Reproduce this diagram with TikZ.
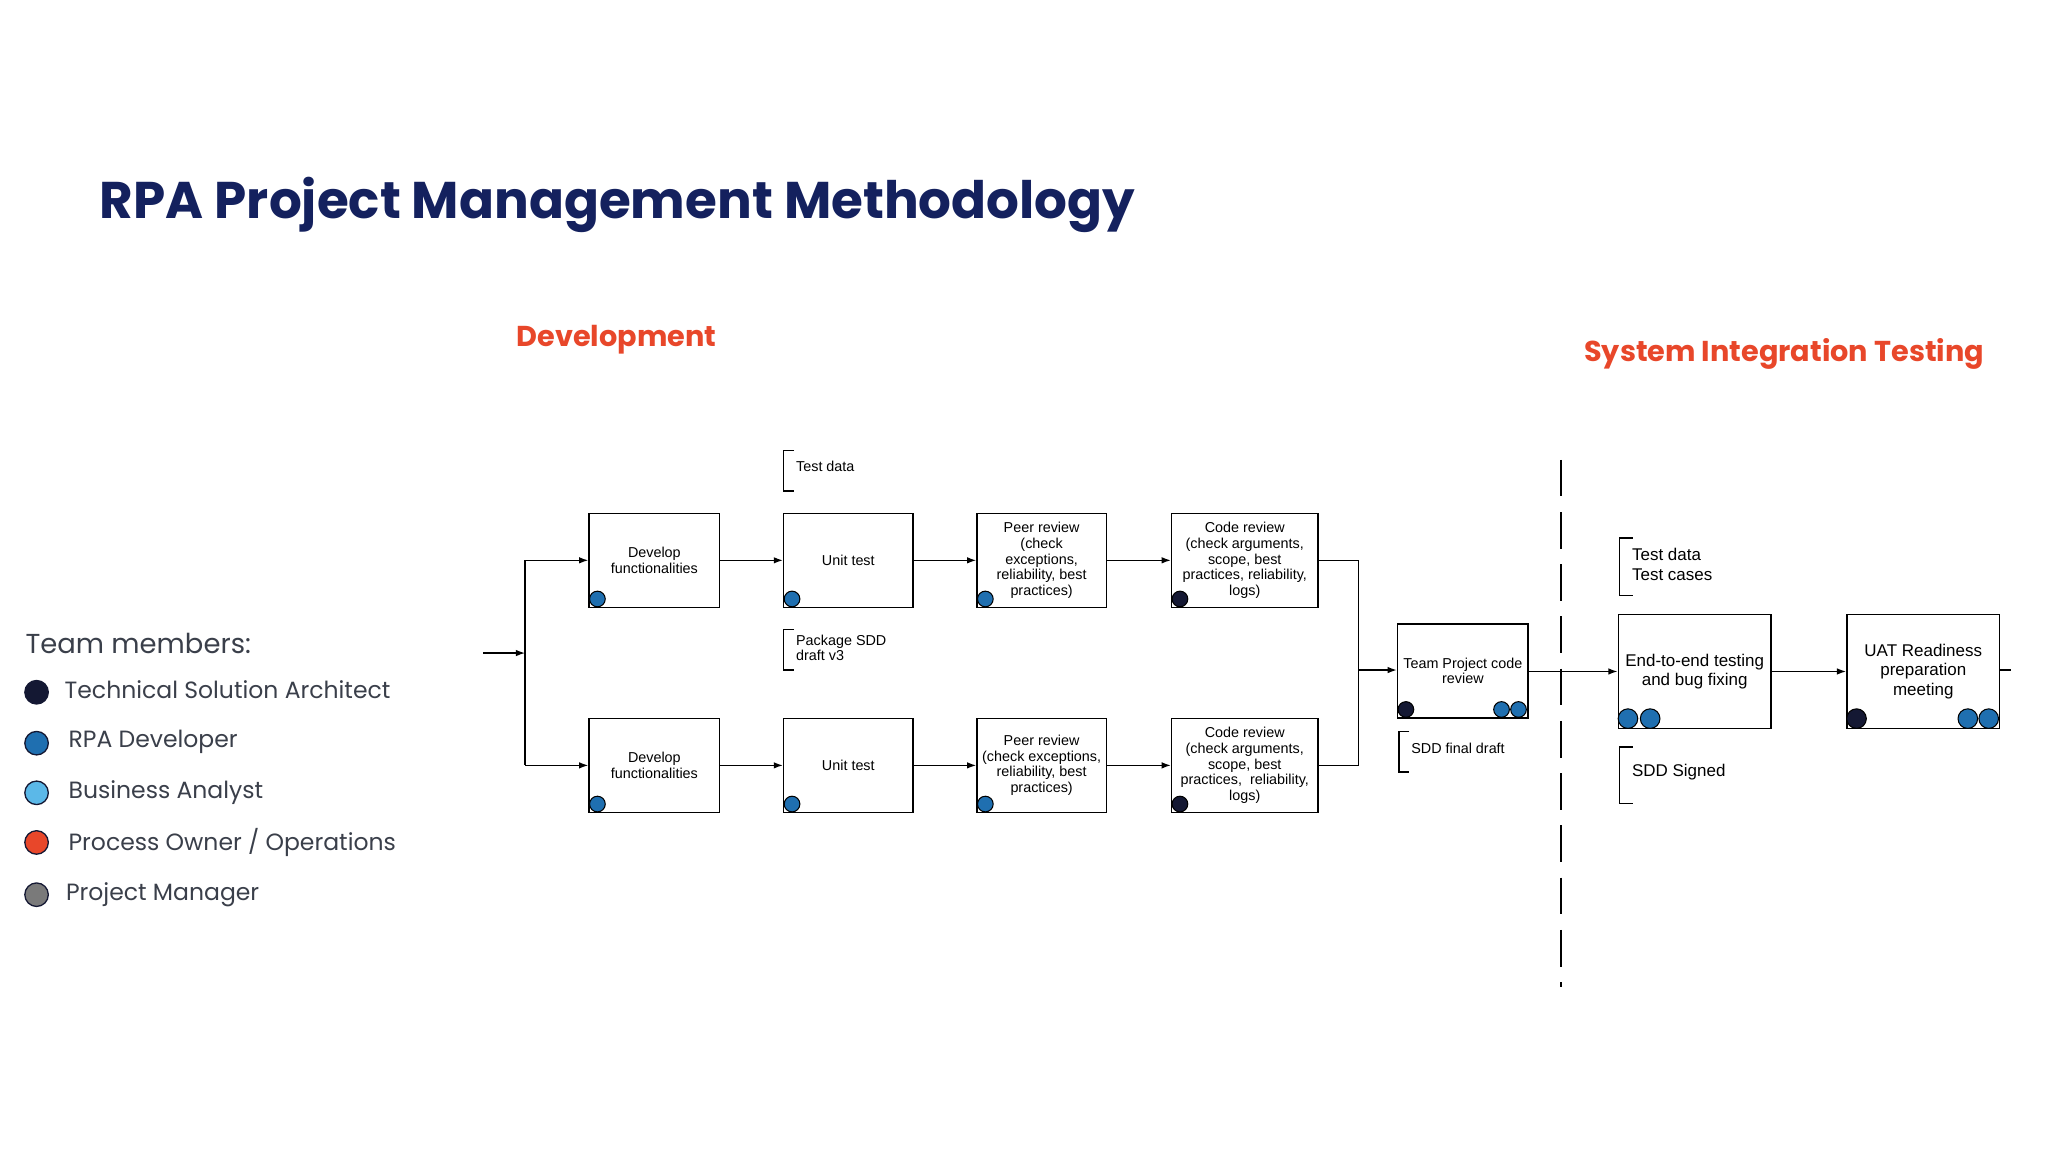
\documentclass[tikz,border=0pt]{standalone}
\usepackage{fontspec}
\setmainfont{Poppins}
\newfontfamily\arialf{Liberation Sans}
\usetikzlibrary{arrows.meta}
\definecolor{navy}{HTML}{14215E}
\definecolor{dknavy}{HTML}{141833}
\definecolor{rblue}{HTML}{1F6FB0}
\definecolor{lblue}{HTML}{5BB8E8}
\definecolor{ored}{HTML}{E8472A}
\definecolor{pgrey}{HTML}{7A7A7A}
\definecolor{txt}{HTML}{3A3F4A}
\tikzset{
 box/.style={draw, line width=1.2pt, minimum width=#1, minimum height=72pt, align=center, inner sep=2pt, font=\arialf\fontsize{11}{12}\selectfont},
 box/.default=100pt,
 arr/.style={line width=1pt, -{Latex[length=7pt,width=5pt]}},
 ln/.style={line width=1pt},
 dot/.style={circle, draw=black, line width=0.8pt, inner sep=0pt, minimum size=#1},
 dot/.default=12pt,
 note/.style={anchor=west, align=left, font=\arialf\fontsize{11}{12}\selectfont},
 brk/.style={line width=1pt},
 leg/.style={anchor=west, font=\fontsize{18}{20}\selectfont, text=txt},
 ldot/.style={circle, draw=dknavy, line width=1pt, inner sep=0pt, minimum size=18pt},
}
\begin{document}
\begin{tikzpicture}[x=1pt,y=-1pt]
\useasboundingbox (0,0) rectangle (1568,882);
\node[anchor=west, font=\bfseries\fontsize{39.5}{42}\selectfont, text=navy] (title) at (73,157) {RPA Project Management Methodology};
\node[font=\bfseries\fontsize{22}{24}\selectfont, text=ored] (dev) at (472,260) {Development};
\node[font=\bfseries\fontsize{22}{24}\selectfont, text=ored] (sit) at (1366,271) {System Integration Testing};
% legend
\node[anchor=west, font=\fontsize{21}{24}\selectfont, text=txt] (tm) at (16,493) {Team members:};
\node[ldot, fill=dknavy] (l1) at (28,530) {}; \node[leg] (t1) at (46,528) {Technical Solution Architect};
\node[ldot, fill=rblue] (l2) at (28,569) {}; \node[leg] (t2) at (49,568) {RPA Developer};
\node[ldot, fill=lblue] (l3) at (28,607) {}; \node[leg] (t3) at (49,607) {Business Analyst};
\node[ldot, fill=ored] (l4) at (28,645) {}; \node[leg] (t4) at (49,645) {Process Owner / Operations};
\node[ldot, fill=pgrey] (l5) at (28,685) {}; \node[leg] (t5) at (47,685) {Project Manager};
% boxes
\node[box] (a1) at (501,429) {Develop\\functionalities};
\node[box=99pt] (b1) at (649.5,429) {Unit test};
\node[box=99pt] (c1) at (797.5,429) {Peer review\\(check\\exceptions,\\reliability, best\\practices)};
\node[box=112pt] (d1) at (953,429) {Code review\\(check arguments,\\scope, best\\practices, reliability,\\logs)};
\node[box] (a2) at (501,586) {Develop\\functionalities};
\node[box=99pt] (b2) at (649.5,586) {Unit test};
\node[box=99pt] (c2) at (797.5,586) {Peer review\\(check exceptions,\\reliability, best\\practices)};
\node[box=112pt] (d2) at (953,586) {Code review\\(check arguments,\\scope, best\\practices, \ reliability,\\logs)};
\node[box, anchor=north] (tr) at (1120,477) {Team Project code\\review};
\node[box=117pt, minimum height=87pt, font=\arialf\fontsize{13}{15}\selectfont, anchor=north] (ee) at (1297.5,470) {End-to-end testing\\and bug fixing};
\node[box=117pt, minimum height=87pt, font=\arialf\fontsize{13}{15}\selectfont, anchor=north] (uat) at (1472.5,470) {UAT Readiness\\preparation\\meeting};
% dots
\foreach \n in {a1,b1,c1,a2,b2,c2}{\node[dot, fill=rblue] at ([xshift=7pt,yshift=7pt]\n.south west) {};}
\foreach \n in {d1,d2}{\node[dot, fill=dknavy] at ([xshift=7pt,yshift=7pt]\n.south west) {};}
\node[dot, fill=dknavy] (tr1) at ([xshift=7pt,yshift=7pt]tr.south west) {};
\node[dot, fill=rblue] (tr2) at ([xshift=-21pt,yshift=7pt]tr.south east) {};
\node[dot, fill=rblue] (tr3) at ([xshift=-8pt,yshift=7pt]tr.south east) {};
\node[dot=15pt, fill=rblue] (e1) at ([xshift=8pt,yshift=8pt]ee.south west) {};
\node[dot=15pt, fill=rblue] (e2) at ([xshift=25pt,yshift=8pt]ee.south west) {};
\node[dot=15pt, fill=dknavy] (u1) at ([xshift=8pt,yshift=8pt]uat.south west) {};
\node[dot=15pt, fill=rblue] (u2) at ([xshift=-25pt,yshift=8pt]uat.south east) {};
\node[dot=15pt, fill=rblue] (u3) at ([xshift=-9pt,yshift=8pt]uat.south east) {};
% connectors
\coordinate (in) at (370,500); \coordinate (sp) at (402,500);
\draw[arr] (in) -- (sp);
\draw[ln] (sp |- a1) -- (sp |- a2);
\draw[arr] (sp |- a1) -- (a1); \draw[arr] (sp |- a2) -- (a2);
\draw[arr] (a1) -- (b1); \draw[arr] (b1) -- (c1); \draw[arr] (c1) -- (d1);
\draw[arr] (a2) -- (b2); \draw[arr] (b2) -- (c2); \draw[arr] (c2) -- (d2);
\coordinate (mg) at (1040,513);
\draw[ln] (d1.east) -| (mg) |- (d2.east);
\draw[arr] (mg) -- (tr.west |- mg);
\draw[arr] (tr.east |- ee) -- (ee);
\draw[arr] (ee) -- (uat);
\coordinate (out) at (1540,513);
\draw[ln] (uat.east |- out) -- (out);
\coordinate (dv1) at (1195,352); \coordinate (dv2) at (1195,756);
\draw[line width=1.5pt, dash pattern=on 28pt off 12pt] (dv1) -- (dv2);
% notes
\draw[brk] (608,345) -- (600,345) -- (600,376) -- (608,376);
\node[note] (n1) at (606,357) {Test data};
\draw[brk] (608,482) -- (600,482) -- (600,513) -- (608,513);
\node[note] (n2) at (606,496) {Package SDD\\draft v3};
\draw[brk] (1079,560) -- (1071,560) -- (1071,591) -- (1079,591);
\node[note] (n3) at (1077,573) {SDD final draft};
\draw[brk] (1250,412) -- (1240,412) -- (1240,456) -- (1250,456);
\node[note, font=\arialf\fontsize{13}{15}\selectfont] (n4) at (1246,432) {Test data\\Test cases};
\draw[brk] (1250,572) -- (1240,572) -- (1240,615) -- (1250,615);
\node[note, font=\arialf\fontsize{13}{15}\selectfont] (n5) at (1246,591) {SDD Signed};
\end{tikzpicture}
\end{document}
